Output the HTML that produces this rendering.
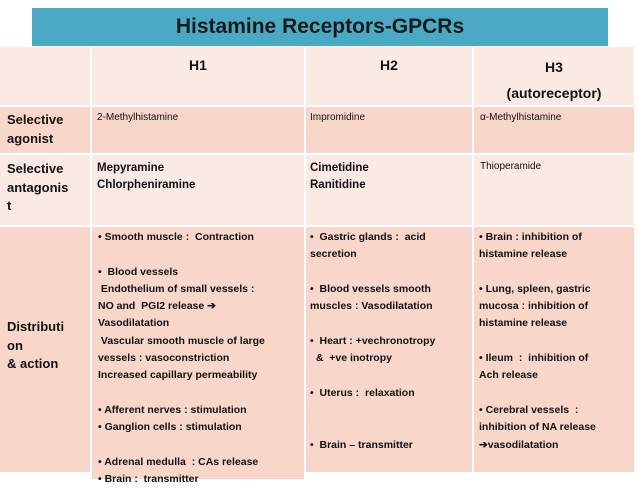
<!DOCTYPE html>
<html><head><meta charset="utf-8"><style>
body{margin:0;width:638px;height:479px;background:#fff;position:relative;overflow:hidden;font-family:"Liberation Sans",Arial,sans-serif;color:#111}
.b{position:absolute}
.t{position:absolute;white-space:nowrap;font-size:10.5px;line-height:17.3px}
.bd{font-weight:bold}
.n{font-size:10px;font-weight:normal}
.lab{position:absolute;left:7px;font-weight:bold;font-size:13px;line-height:18.5px}
</style></head><body>
<div class="b" style="left:32px;top:8px;width:576px;height:38px;background:#4aaac6"></div>
<div class="b" style="left:32px;top:10px;width:576px;text-align:center;font-weight:bold;font-size:21px;line-height:34px;color:#1a1a1a">Histamine Receptors-GPCRs</div>
<div class="b" style="left:0;top:47px;width:90px;height:58px;background:#fbe9e3"></div>
<div class="b" style="left:92px;top:47px;width:212px;height:58px;background:#fbe9e3"></div>
<div class="b" style="left:306px;top:47px;width:166px;height:58px;background:#fbe9e3"></div>
<div class="b" style="left:474px;top:47px;width:160px;height:58px;background:#fbe9e3"></div>
<div class="b" style="left:0;top:107px;width:90px;height:46px;background:#f9d6ca"></div>
<div class="b" style="left:92px;top:107px;width:212px;height:46px;background:#f9d6ca"></div>
<div class="b" style="left:306px;top:107px;width:166px;height:46px;background:#f9d6ca"></div>
<div class="b" style="left:474px;top:107px;width:160px;height:46px;background:#f9d6ca"></div>
<div class="b" style="left:0;top:155px;width:90px;height:70px;background:#fbe9e3"></div>
<div class="b" style="left:92px;top:155px;width:212px;height:70px;background:#fbe9e3"></div>
<div class="b" style="left:306px;top:155px;width:166px;height:70px;background:#fbe9e3"></div>
<div class="b" style="left:474px;top:155px;width:160px;height:70px;background:#fbe9e3"></div>
<div class="b" style="left:0;top:227px;width:90px;height:245px;background:#f9d6ca"></div>
<div class="b" style="left:92px;top:227px;width:212px;height:252px;background:#f9d6ca"></div>
<div class="b" style="left:306px;top:227px;width:166px;height:245px;background:#f9d6ca"></div>
<div class="b" style="left:474px;top:227px;width:160px;height:245px;background:#f9d6ca"></div>

<div class="b bd" style="left:92px;top:57px;width:212px;text-align:center;font-size:14px">H1</div>
<div class="b bd" style="left:306px;top:57px;width:166px;text-align:center;font-size:14px">H2</div>
<div class="b bd" style="left:474px;top:54px;width:160px;text-align:center;font-size:14px;line-height:26px">H3<br>(autoreceptor)</div>

<div class="lab" style="top:111px">Selective<br>agonist</div>
<div class="lab" style="top:160px">Selective<br>antagonis<br>t</div>
<div class="lab" style="top:318px">Distributi<br>on<br>&amp; action</div>

<div class="t n" style="left:97px;top:109px">2-Methylhistamine</div>
<div class="t n" style="left:310px;top:109px">Impromidine</div>
<div class="t n" style="left:480px;top:109px">α-Methylhistamine</div>

<div class="t bd" style="left:97px;top:160px;font-size:11.5px">Mepyramine<br>Chlorpheniramine</div>
<div class="t bd" style="left:310px;top:160px;font-size:11.5px">Cimetidine<br>Ranitidine</div>
<div class="t n" style="left:480px;top:158px">Thioperamide</div>

<div class="t bd" style="left:98px;top:229px">• Smooth muscle :&nbsp; Contraction<br><br>• &nbsp;Blood vessels<br>&nbsp;Endothelium of small vessels :<br>NO and&nbsp; PGI2 release ➔<br>Vasodilatation<br>&nbsp;Vascular smooth muscle of large<br>vessels : vasoconstriction<br>Increased capillary permeability<br><br>• Afferent nerves : stimulation<br>• Ganglion cells : stimulation<br><br>• Adrenal medulla&nbsp; : CAs release<br>• Brain :&nbsp; transmitter</div>
<div class="t bd" style="left:310px;top:229px">• &nbsp;Gastric glands :&nbsp; acid<br>secretion<br><br>• &nbsp;Blood vessels smooth<br>muscles : Vasodilatation<br><br>• &nbsp;Heart : +vechronotropy<br>&nbsp;&nbsp;&amp; &nbsp;+ve inotropy<br><br>• &nbsp;Uterus :&nbsp; relaxation<br><br><br>• &nbsp;Brain – transmitter</div>
<div class="t bd" style="left:479px;top:229px">• Brain : inhibition of<br>histamine release<br><br>• Lung, spleen, gastric<br>mucosa : inhibition of<br>histamine release<br><br>• Ileum&nbsp; :&nbsp; inhibition of<br>Ach release<br><br>• Cerebral vessels&nbsp; :<br>inhibition of NA release<br>➔vasodilatation</div>
</body></html>
